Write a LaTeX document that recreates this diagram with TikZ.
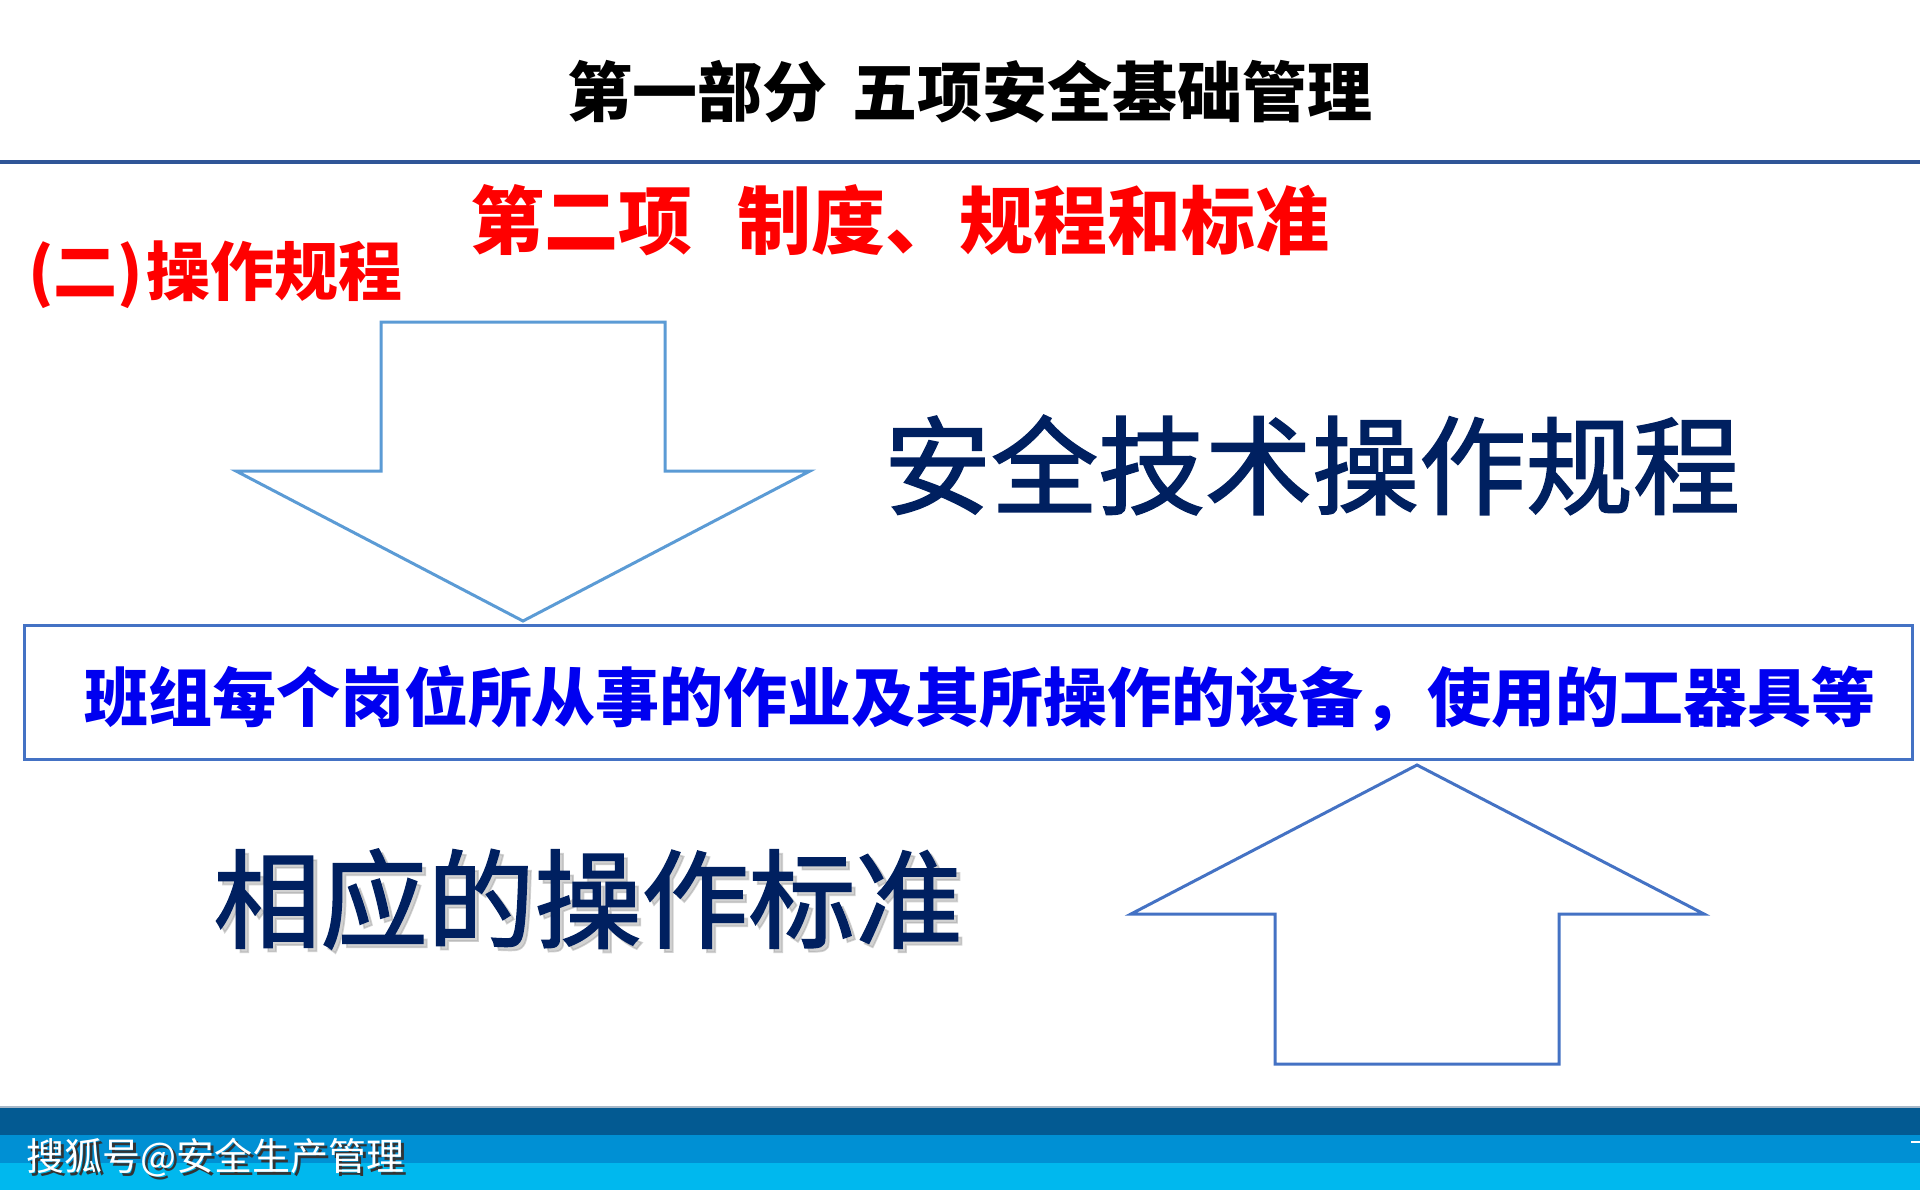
\documentclass[tikz,border=0pt]{standalone}
\usepackage{fontspec}
\setmainfont{Noto Sans CJK SC}
\newfontfamily\cjkheavy[FakeBold=1.6]{Noto Sans CJK SC}
\definecolor{rulec}{HTML}{2F5597}
\definecolor{redc}{HTML}{FF0000}
\definecolor{navy}{HTML}{002060}
\definecolor{boxblue}{HTML}{0000F0}
\definecolor{arrA}{HTML}{5B9BD5}
\definecolor{arrB}{HTML}{4472C4}
\definecolor{bandA}{HTML}{035A92}
\definecolor{bandB}{HTML}{0090D4}
\definecolor{bandC}{HTML}{00B8EE}
\definecolor{bandline}{HTML}{A8B8C8}
\begin{document}
\begin{tikzpicture}[x=1pt,y=-1pt,
  every node/.style={inner sep=0pt, outer sep=0pt},
  arrowshape/.style={line width=3pt, line join=miter, fill=white},
  bigtext/.style={text=navy, font=\fontsize{107}{107}\cjkheavy},
  bandfill/.style={draw=none}]
\useasboundingbox (0,0) rectangle (1920,1200);
\fill[white] (0,0) rectangle (1920,1200);

% title and rule
\node[font=\fontsize{65}{65}\selectfont\bfseries] (title) at (970,92) {第一部分\hspace{0.4em}五项安全基础管理};
\coordinate (ruleL) at (0,162);
\coordinate (ruleR) at (1920,162);
\draw[rulec, line width=4.5pt] (ruleL) -- (ruleR);

% red headings
\node[text=redc, font=\fontsize{74}{74}\selectfont\bfseries] (sect) at (900,220) {第二项\hspace{0.6em}制度、规程和标准};
\node[text=redc, font=\fontsize{64}{64}\selectfont\bfseries, anchor=west] (sub) at (28,275) {(二)\hspace{0.05em}操作规程};

% down arrow
\draw[arrA, arrowshape] (381,322) -- (665,322) -- (665,471) -- (810,471) -- (523,621) -- (236,471) -- (381,471) -- cycle;

% box
\node[draw=arrB, line width=3pt, minimum width=1888pt, minimum height=134pt, anchor=north west] (box) at (24.5,625.5) {};
\node[text=boxblue, font=\fontsize{64}{64}\selectfont\bfseries, anchor=west] (boxtext) at (84,698) {班组每个岗位所从事的作业及其所操作的设备，使用的工器具等};

% up arrow
\draw[arrB, arrowshape] (1275,1064) -- (1559,1064) -- (1559,914) -- (1704,914) -- (1417,765) -- (1131,914) -- (1275,914) -- cycle;

% big texts
\node[bigtext] (tech) at (1312,465) {安全技术操作规程};
\node[text=black!35, font=\fontsize{107}{107}\cjkheavy, opacity=0.5] (stdshadow) at (592,903) {相应的操作标准};
\node[bigtext] (std) at (588,899) {相应的操作标准};

% footer bands
\fill[bandline] (0,1106) rectangle (1920,1108);
\fill[bandA] (0,1108) rectangle (1920,1135);
\fill[bandB] (0,1135) rectangle (1920,1163);
\fill[bandC] (0,1163) rectangle (1920,1190);
\draw[white, line width=2pt] (1911,1142) -- (1920,1142);
\node[text=black!80, font=\fontsize{38}{38}\selectfont, anchor=west] (footshadow) at (29.5,1160.5) {搜狐号@安全生产管理};
\node[text=white, font=\fontsize{38}{38}\selectfont, anchor=west] (foot) at (27,1158) {搜狐号@安全生产管理};
\end{tikzpicture}
\end{document}
